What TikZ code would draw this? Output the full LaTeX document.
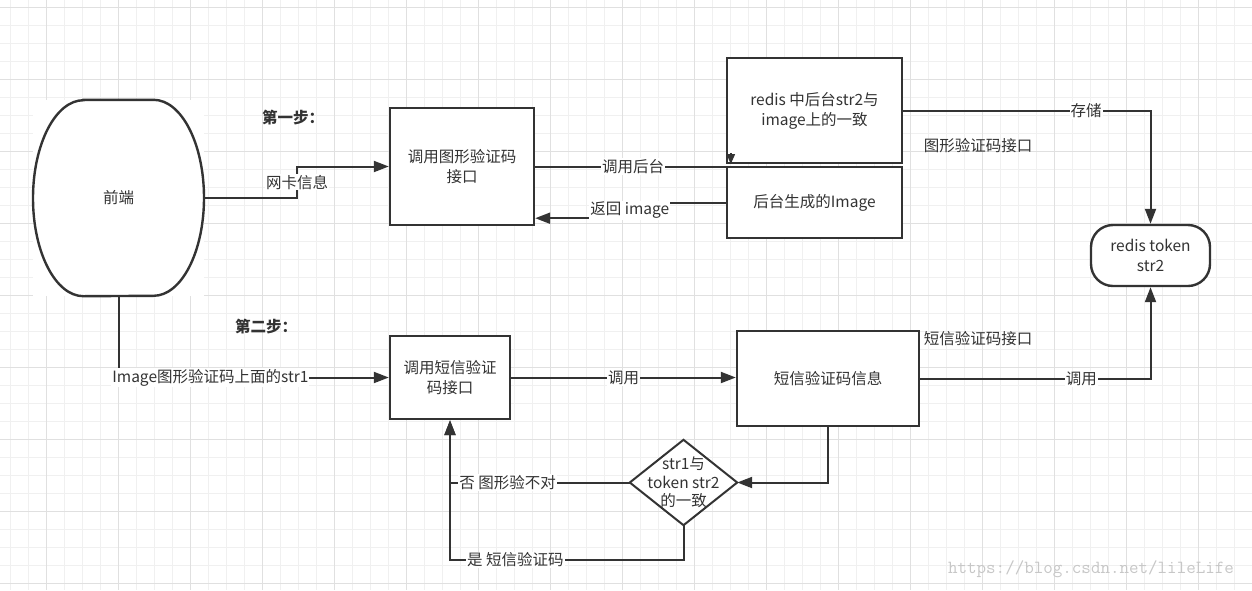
\documentclass[tikz,border=0pt]{standalone}
\usepackage{fontspec}
\newfontfamily\cjk{Noto Sans CJK SC}
\usetikzlibrary{arrows.meta,positioning}
\definecolor{linec}{HTML}{333333}
\definecolor{gridminor}{HTML}{F0F0F0}
\definecolor{gridmajor}{HTML}{E0E0E0}

\begin{document}
\begin{tikzpicture}[
		x=1pt, y=-1pt,
		font=\cjk\fontsize{15.5}{20}\selectfont,
		text=linec,
		box/.style={draw=linec, line width=2.4pt, fill=white, align=center, inner sep=0pt},
		conn/.style={draw=linec, line width=2pt},
		arr/.style={conn, -{Triangle[length=15pt, width=11pt]}},
		lbl/.style={fill=white, inner sep=1pt},
	]
		\useasboundingbox (0,0) rectangle (1252,590);
		\fill[white] (0,0) rectangle (1252,590);
		\foreach \x in {10,28,...,1252} \draw[gridminor, line width=1pt] (\x,0) -- (\x,590);
		\foreach \y in {7,25,...,590} \draw[gridminor, line width=1pt] (0,\y) -- (1252,\y);
		\foreach \x in {46,118,...,1252} \draw[gridmajor, line width=1pt] (\x,0) -- (\x,590);
		\foreach \y in {7,79,...,590} \draw[gridmajor, line width=1pt] (0,\y) -- (1252,\y);

		\node (fe) [fill=white, minimum width=171pt, minimum height=196pt, inner sep=0pt] at (118.5,198) {};
		\draw[conn, line width=2.4pt, fill=white] ([xshift=-35pt]fe.north) -- ([xshift=35pt]fe.north) arc[start angle=-90, end angle=90, x radius=50.5, y radius=98] -- ([xshift=-35pt]fe.south) arc[start angle=90, end angle=270, x radius=50.5, y radius=98] -- cycle;
		\node at (fe) {前端};

		\node (tuxing) [box, minimum width=144pt, minimum height=117pt] at (462,166.5) {调用图形验证码\\接口};
		\node (redis) [box, minimum width=175pt, minimum height=105pt] at (814.5,110.5) {redis 中后台str2与\\image上的一致};
		\node (gen) [box, minimum width=175pt, minimum height=71pt, below=1.6pt of redis] {后台生成的Image};
		\node (token) [box, rounded corners=22pt, minimum width=119pt, minimum height=61pt] at (1150.5,255.5) {redis token\\str2};
		\node (duanxin) [box, minimum width=120pt, minimum height=83pt] at (450,377.5) {调用短信验证\\码接口};
		\node (sms) [box, minimum width=182pt, minimum height=95pt] at (828,378.5) {短信验证码信息};
		\node (dia) [minimum width=107pt, minimum height=85pt, inner sep=0pt] at (683.5,482.5) {};
		\draw[conn, fill=white] (dia.north) -- (dia.east) -- (dia.south) -- (dia.west) -- cycle;
		\node [align=center, font=\cjk\fontsize{15.5}{18.5}\selectfont] at (dia) {str1与\\token str2\\的一致};
		\coordinate (tip) at ([xshift=5pt]redis.south west);
		\coordinate (shi) at (450,560);

		\node (step1) [font=\cjk\bfseries\fontsize{15.5}{19}\selectfont] at (293,118) {第一步：};
		\node (step2) [font=\cjk\bfseries\fontsize{15.5}{19}\selectfont] at (266,327) {第二步：};
		\node (tuxingjk) at (978,146) {图形验证码接口};
		\node (duanxinjk) at (978,339) {短信验证码接口};

		\draw[arr] (fe.east) -- ++(93,0) |- node[lbl, pos=.25]{网卡信息} (tuxing.west);
		\draw[arr] (fe.south) |- node[lbl, pos=.67]{Image图形验证码上面的str1} (duanxin.west);
		\draw[conn] (tuxing.east) -- node[lbl]{调用后台} (tuxing.east -| tip);
		\draw[conn, -{Triangle[length=10pt, width=8pt]}] ([yshift=11pt]tip) -- (tip);
		\draw[arr] (gen.west) -- ++(-96,0) |- node[lbl, pos=.25]{返回 image} ([yshift=8pt]tuxing.south east);
		\draw[arr] (redis.east) -| node[lbl, pos=.37]{存储} (token.north);

		\draw[arr] (duanxin.east) -- node[lbl]{调用} (duanxin.east -| sms.west);
		\draw[arr] (sms.east) -| node[lbl, pos=.35]{调用} (token.south);
		\draw[arr] (sms.south) |- (dia.east);
		\draw[arr] (dia.west) -| node[lbl, pos=.34]{否 图形验不对} (duanxin.south);
		\draw[arr] (dia.south) |- node[lbl, pos=.86]{是 短信验证码} (shi) -- (duanxin.south);

		\node (wm) [font=\ttfamily\fontsize{18.5}{20}\selectfont, text=black!22] at (1091,569) {https://blog.csdn.net/lileLife};
	\end{tikzpicture}
\end{document}
